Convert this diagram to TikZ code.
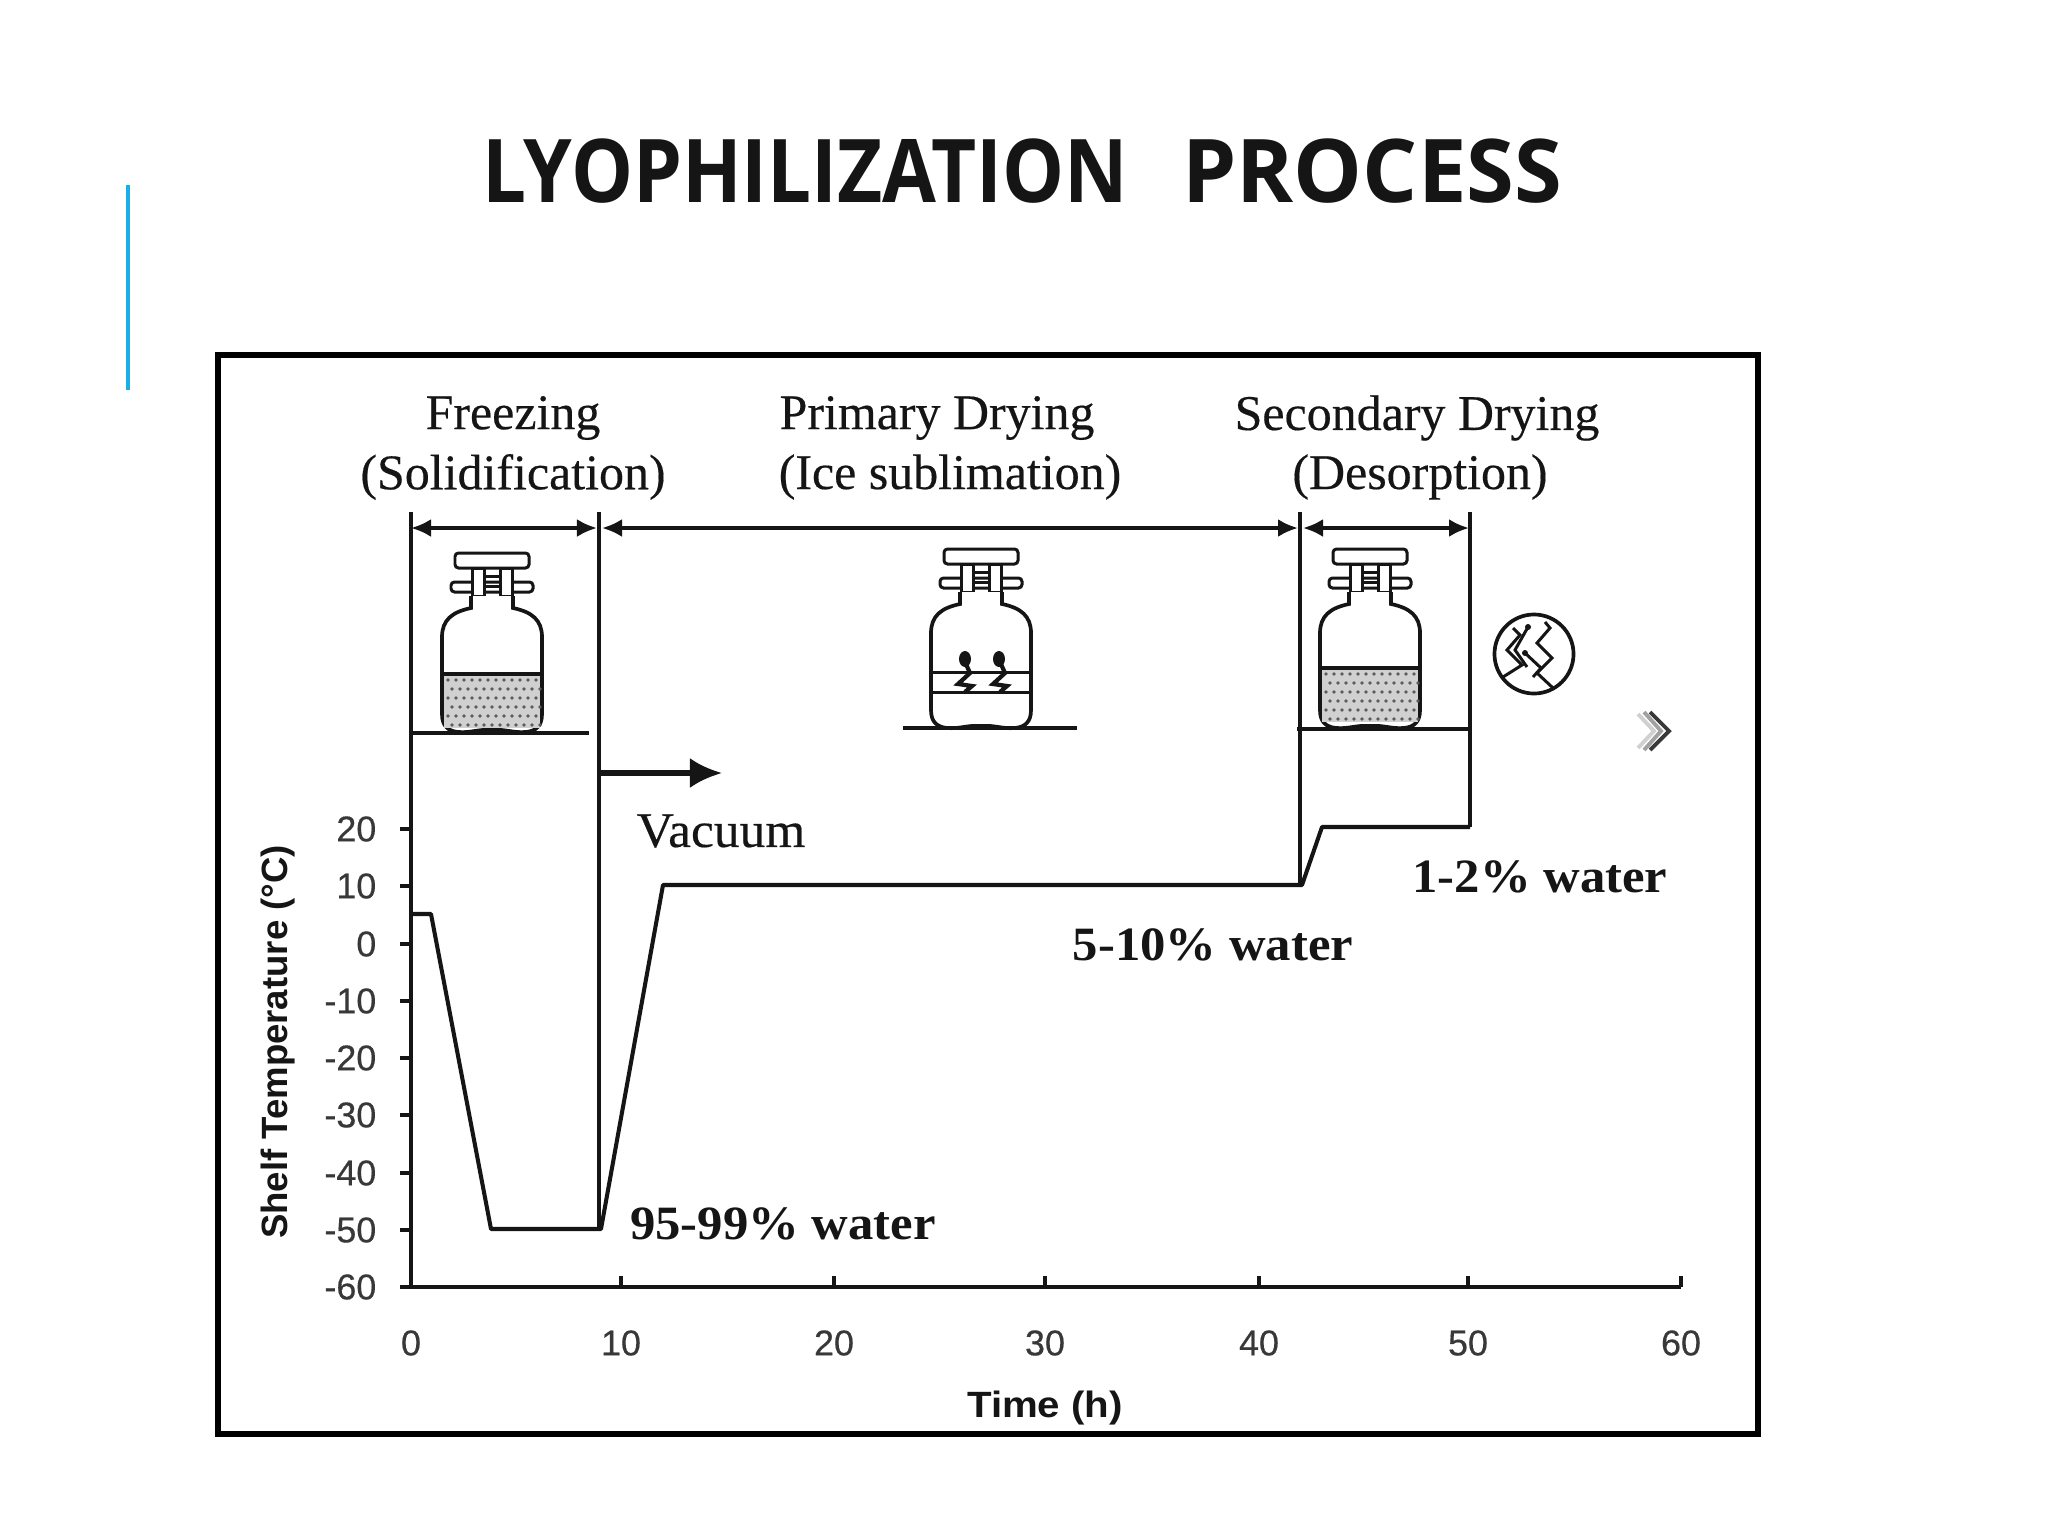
\documentclass[tikz,border=0pt]{standalone}
\usepackage{graphicx}
\usepackage{fontspec}
\setmainfont{Liberation Serif}
\newfontfamily\scanserif[FakeBold=0.35]{Liberation Serif}
\newfontfamily\titlefont{Open Sans}
\newfontfamily\axisfont[FakeBold=0.4]{Liberation Sans}
\newfontfamily\axisbold{Liberation Sans Bold}
\usetikzlibrary{arrows.meta}
\definecolor{accentblue}{HTML}{1CADE4}
\definecolor{ink}{HTML}{151515}
\tikzset{
  x=0.01cm,y=-0.01cm,
  line/.style={draw=ink,line width=1.05pt},
  thinline/.style={draw=ink,line width=0.85pt},
  dim/.style={line,{Latex[length=2mm,width=1.8mm]}-{Latex[length=2mm,width=1.8mm]}},
  phase/.style={font=\scanserif\fontsize{14.2}{17}\selectfont,text=ink,inner sep=0pt},
  water/.style={font=\bfseries\fontsize{13.6}{16}\selectfont,text=ink,inner sep=0pt,xscale=1.06},
  tick/.style={font=\axisfont\fontsize{10.2}{12}\selectfont,text=ink!85,inner sep=0pt},
  axt/.style={font=\axisbold\fontsize{10.4}{12}\selectfont,text=ink,inner sep=0pt},
  bottle/.pic={
    \draw[thinline,rounded corners=1pt] (-37,-179) rectangle (37,-164);
    \draw[thinline,rounded corners=1pt] (-41,-150) rectangle (41,-140);
    \draw[thinline,fill=white] (-20,-164) rectangle (-8,-136);
    \draw[thinline,fill=white] (8,-164) rectangle (20,-136);
    \draw[thinline] (-8,-156) -- (8,-156) (-8,-146) -- (8,-146);
    \draw[line,fill=white] (-21,-136) -- (-21,-124) .. controls (-40,-120) and (-50,-112) .. (-50,-95)
      -- (-50,-18) .. controls (-50,-6) and (-44,-1) .. (-34,0)
      .. controls (-20,1) and (-15,-3) .. (0,-2) .. controls (15,-3) and (20,1) .. (34,0)
      .. controls (44,-1) and (50,-6) .. (50,-18) -- (50,-95)
      .. controls (50,-112) and (40,-120) .. (21,-124) -- (21,-136);
  },
  stipple/.pic={
    \fill[ink!20] (-48,-57) rectangle (48,-4);
    \foreach \row in {0,...,5}{\foreach \col in {0,...,11}{
      \fill[ink!70] ({-44+\col*8+mod(\row,2)*4},{-52+\row*9}) circle (1.8);
    }}
    \draw[line] (-50,-58) -- (50,-58);
  },
}
\begin{document}
\begin{tikzpicture}
\useasboundingbox (0,0) rectangle (2048,1536);
\fill[white] (0,0) rectangle (2048,1536);

% slide furniture
\coordinate (ruleTop) at (128,185);
\coordinate (ruleBottom) at (128,390);
\draw[accentblue,line width=1.1pt] (ruleTop) -- (ruleBottom);
\node[inner sep=0pt,font=\titlefont\bfseries\fontsize{25}{30}\selectfont,text=ink] (title) at (1022,171) {\scalebox{0.888}[1]{LYOPHILIZATION}\hspace{0.62em}\scalebox{0.985}[1]{PROCESS}};
\draw[black,line width=1.8pt] (218,355) rectangle (1758,1434);

% phase labels
\node[phase] (frz) at (513,418) {Freezing};
\node[phase] (sol) at (513,477) {(Solidification)};
\node[phase] (pri) at (937,418) {Primary Drying};
\node[phase] (ice) at (950,477) {(Ice sublimation)};
\node[phase] (sec) at (1417,418) {Secondary Drying};
\node[phase] (des) at (1420,477) {(Desorption)};

% phase boundaries
\coordinate (v1t) at (411,512); \coordinate (v1b) at (411,1287);
\coordinate (v2t) at (599,512); \coordinate (v2b) at (599,1229);
\coordinate (v3t) at (1300,512); \coordinate (v3b) at (1300,885);
\coordinate (v4t) at (1470,512); \coordinate (v4b) at (1470,827);
\draw[line] (v1t) -- (v1b);
\draw[line] (v2t) -- (v2b);
\draw[line] (v3t) -- (v3b);
\draw[line] (v4t) -- (v4b);

% phase arrows
\coordinate (a1) at (411,528); \coordinate (a2) at (597,528);
\coordinate (a3) at (602,528); \coordinate (a4) at (1298,528);
\coordinate (a5) at (1303,528); \coordinate (a6) at (1469,528);
\draw[dim] (a1) -- (a2);
\draw[dim] (a3) -- (a4);
\draw[dim] (a5) -- (a6);

% shelves and vials
\coordinate (s1a) at (413,733); \coordinate (s1b) at (589,733);
\coordinate (s2a) at (903,728); \coordinate (s2b) at (1077,728);
\coordinate (s3a) at (1297,729); \coordinate (s3b) at (1470,729);
\pic at (492,732) {bottle};
\pic at (492,732) {stipple};
\pic at (981,728) {bottle};
\pic at (1370,728) {bottle};
\pic at (1370,726) {stipple};
\draw[line] (s1a) -- (s1b);
\draw[line] (s2a) -- (s2b);
\draw[line] (s3a) -- (s3b);

% primary drying vial interior
\draw[thinline] (932,672) -- (1030,672) (932,692) -- (1030,692);
\draw[thinline,line width=1.2pt] (965,662) -- (970,673) -- (958,684) -- (972,686) -- (965,692);
\draw[thinline,line width=1.2pt] (1000,662) -- (1005,673) -- (993,684) -- (1007,686) -- (1000,692);
\fill[ink] (965,659) ellipse (6 and 8);
\fill[ink] (999,659) ellipse (6 and 8);

% vacuum arrow
\coordinate (vacA) at (599,773); \coordinate (vacB) at (722,773);
\draw[ink,line width=1.5pt,-{Latex[length=3.2mm,width=3mm]}] (vacA) -- (vacB);
\node[phase,xscale=1.03] (vac) at (721,831) {Vacuum};

% dried-cake icon
\node[draw=ink,line width=1.05pt,circle,minimum size=0.79cm,inner sep=0pt] (cake) at (1534,654) {};
\draw[thinline] (1513,628) -- (1520,635) -- (1507,650) -- (1522,665) -- (1503,677);
\draw[thinline] (1545,622) -- (1550,628) -- (1537,643) -- (1552,658) -- (1537,673) -- (1553,688);
\draw[thinline] (1528,627) -- (1515,650) -- (1527,667) (1525,653) -- (1541,668) -- (1533,677);
\fill[ink] (1528,627) circle (3);
\fill[ink] (1525,653) circle (3);

% chevrons
\draw[ink!20,line width=1.1pt] (1638,714) -- (1654,731) -- (1638,748);
\draw[ink!40,line width=1.1pt] (1644,712) -- (1661,731) -- (1644,750);
\draw[ink!85,line width=1.1pt] (1650,712) -- (1669,731) -- (1650,750);

% shelf temperature profile
\coordinate (p0) at (411,914); \coordinate (p1) at (431,914);
\coordinate (p2) at (491,1229); \coordinate (p3) at (601,1229);
\coordinate (p4) at (663,885); \coordinate (p5) at (1302,885);
\coordinate (p6) at (1322,827); \coordinate (p7) at (1470,827);
\draw[ink,line width=1.15pt,line join=round] (p0) -- (p1) -- (p2) -- (p3) -- (p4) -- (p5) -- (p6) -- (p7);

% axes
\coordinate (orig) at (411,1287); \coordinate (xend) at (1681,1287);
\draw[ink,line width=1.1pt] (orig) -- (xend);
\foreach \xx/\lab in {411/0,621/10,834/20,1045/30,1259/40,1468/50,1681/60}{
  \draw[line] (\xx,1287) -- (\xx,1276);
  \node[tick] (xl\lab) at (\xx,1343) {\lab};
}
\foreach \yy/\lab in {829/20,886/10,944/0,1001/-10,1058/-20,1115/-30,1173/-40,1230/-50,1287/-60}{
  \draw[line] (400,\yy) -- (411,\yy);
  \node[tick,anchor=east] (yl\lab) at (377,\yy) {\lab};
}
\node[axt,xscale=1.1] (xt) at (1045,1408) {Time (h)};
\node[axt,rotate=90,xscale=1.0] (yt) at (278,1042) {Shelf Temperature (°C)};

% water content
\node[water] (w1) at (783,1224) {95-99\% water};
\node[water] (w2) at (1213,945) {5-10\% water};
\node[water] (w3) at (1540,877) {1-2\% water};
\end{tikzpicture}
\end{document}
